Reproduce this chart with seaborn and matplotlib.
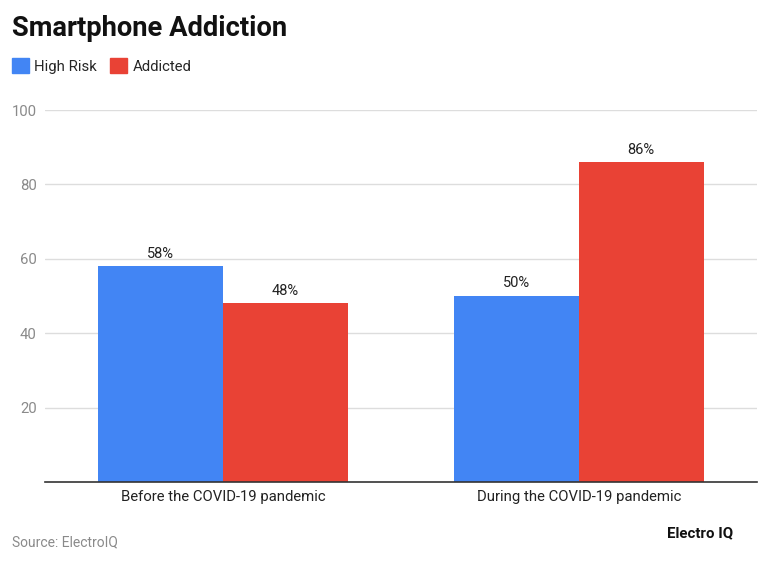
import pandas as pd
import matplotlib.pyplot as plt
import seaborn as sns

# Data
periods = ["Before the COVID-19 pandemic", "During the COVID-19 pandemic"]
high_risk = [58, 50]
addicted = [48, 86]
series_names = ["High Risk", "Addicted"]
colors = ["#4285F4", "#E94235"]

df = pd.DataFrame({
    "period": periods * 2,
    "group": [series_names[0]] * 2 + [series_names[1]] * 2,
    "value": high_risk + addicted,
})

sns.set_theme(style="white")
plt.rcParams['font.family'] = ['Roboto', 'DejaVu Sans']

fig = plt.figure(figsize=(7.67, 5.64), dpi=100)
ax = fig.add_axes([45 / 767, 1 - 482 / 564, 712 / 767, 372 / 564])

sns.barplot(data=df, x="period", y="value", hue="group", palette=colors,
            width=0.7, saturation=1, linewidth=0, ax=ax, legend=False)

# Value labels
for cont in ax.containers:
    ax.bar_label(cont, labels=[f"{v:.0f}%" for v in cont.datavalues],
                 padding=4, fontsize=10.5, color="#222222")

ax.set_ylim(0, 100)
ax.set_xlim(-0.5, 1.5)
ax.set_yticks([20, 40, 60, 80, 100])
ax.yaxis.grid(True, color="#dddddd", linewidth=1)
ax.set_axisbelow(True)
ax.tick_params(axis="y", colors="#8a8a8a", labelsize=10.7, length=0, pad=6)
ax.tick_params(axis="x", colors="#222222", labelsize=10.7, length=0, pad=6)
ax.set_xlabel("")
ax.set_ylabel("")
for side in ["top", "right", "left"]:
    ax.spines[side].set_visible(False)
ax.spines["bottom"].set_color("#333333")
ax.spines["bottom"].set_linewidth(1.2)

# Title
fig.text(12 / 767, 1 - 28 / 564, "Smartphone Addiction", fontsize=19.7,
         fontweight="bold", color="#111111", va="center", ha="left")

# Legend
handles = [plt.Rectangle((0, 0), 1, 1, color=c) for c in colors]
fig.legend(handles, series_names, loc="center left",
           bbox_to_anchor=(6 / 767, 1 - 66 / 564), ncol=2, frameon=False,
           fontsize=10.7, handlelength=1.15, handleheight=1.15,
           handletextpad=0.35, columnspacing=0.9, borderaxespad=0)

# Footer
fig.text(12 / 767, 1 - 542 / 564, "Source: ElectroIQ", fontsize=10,
         color="#8a8a8a", va="center", ha="left")
fig.text(733 / 767, 1 - 533 / 564, "Electro IQ", fontsize=10.8,
         fontweight="bold", color="#111111", va="center", ha="right")

fig.savefig("out.png", dpi=100)
